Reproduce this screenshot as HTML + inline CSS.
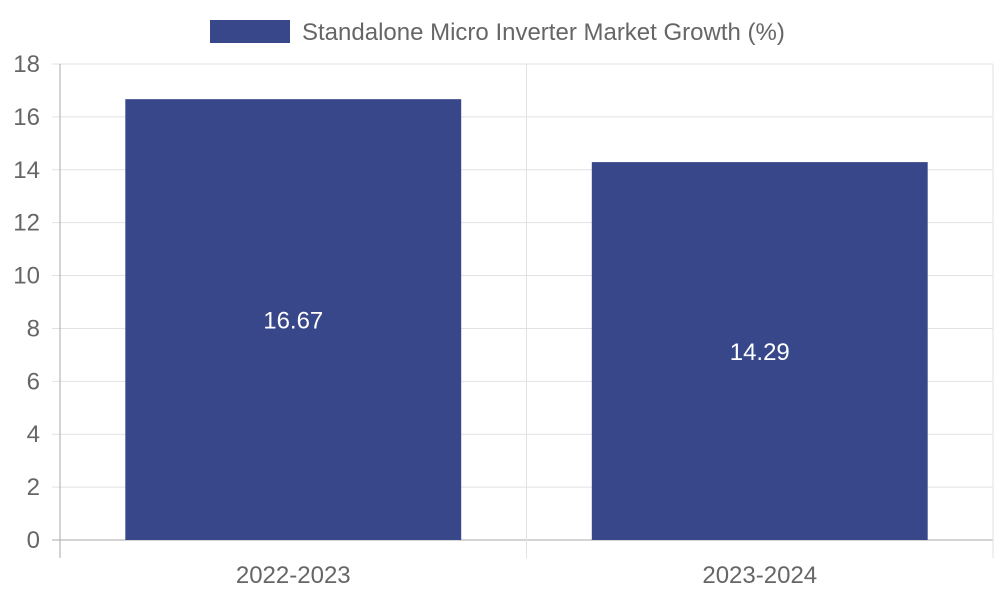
<!DOCTYPE html>
<html><head><meta charset="utf-8">
<style>
html,body{margin:0;padding:0;background:#fff;}
svg{display:block;font-family:"Liberation Sans",sans-serif;}
</style></head>
<body>
<svg id="chart" width="1000" height="600">
  <g id="grid"></g>
  <g id="bars"></g>
  <g id="axes"></g>
  <g>
    <rect x="210" y="20" width="80" height="23" fill="#37478a"></rect>
    <text x="302" y="40" font-size="24" fill="#666">Standalone Micro Inverter Market Growth (%)</text>
  </g>
</svg>
<script>
const categories = ["2022-2023", "2023-2024"];
const values = [16.67, 14.29];
const yTicks = [0, 2, 4, 6, 8, 10, 12, 14, 16, 18];

const leftX = 60, rightX = 993, topY = 64, bottomY = 540, yMax = 18;
const NS = "http://www.w3.org/2000/svg";
function yScale(v){ return bottomY - (v / yMax) * (bottomY - topY); }
const band = (rightX - leftX) / categories.length;
function xCenter(i){ return leftX + band * (i + 0.5); }
function mk(tag, attrs, parent){
  const e = document.createElementNS(NS, tag);
  for (const k in attrs) e.setAttribute(k, attrs[k]);
  parent.appendChild(e);
  return e;
}
const grid = document.getElementById("grid");
const bars = document.getElementById("bars");
const axes = document.getElementById("axes");

yTicks.forEach(t => {
  const l = mk("line", {x1: 52, x2: rightX, y1: yScale(t), y2: yScale(t), stroke: t === 0 ? "#aaa" : "#e2e2e2", "stroke-width": 1}, grid);
  
  
  const tx = mk("text", {x: 40, y: yScale(t) + 8, "text-anchor": "end", "font-size": 24, fill: "#666"}, axes);
  tx.textContent = t;
  
  
});
for (let i = 0; i <= categories.length; i++) {
  const x = leftX + band * i;
  const l = mk("line", {x1: x, x2: x, y1: topY, y2: 558, stroke: i === 0 ? "#aaa" : "#e2e2e2", "stroke-width": 1}, grid);
  
  
}
categories.forEach((c, i) => {
  const bw = band * 0.72;
  const r = mk("rect", {x: xCenter(i) - bw / 2, y: yScale(values[i]), width: bw, height: yScale(0) - yScale(values[i]), fill: "#37478a"}, bars);
  
  
  const vl = mk("text", {x: xCenter(i), y: (yScale(values[i]) + yScale(0)) / 2 + 9, "text-anchor": "middle", "font-size": 24, fill: "#fff"}, bars);
  vl.textContent = values[i].toFixed(2);
  
  
  const xl = mk("text", {x: xCenter(i), y: 583, "text-anchor": "middle", "font-size": 24, fill: "#666"}, axes);
  xl.textContent = c;
  
  
});
</script>
</body></html>
